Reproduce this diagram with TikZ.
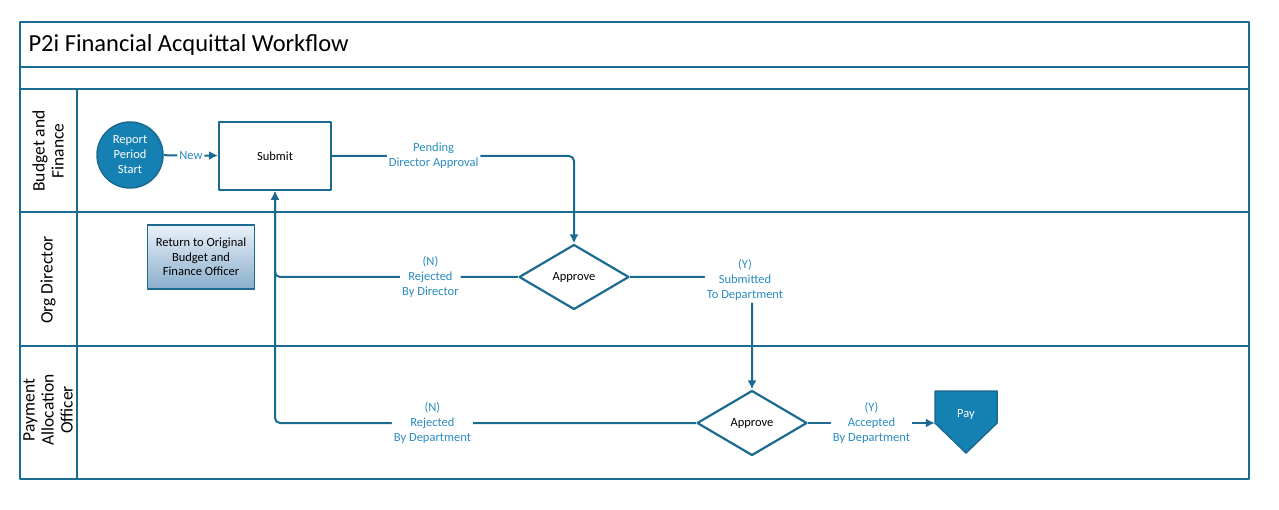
\documentclass[tikz,border=0pt]{standalone}
\usepackage{fontspec}
\setmainfont{Carlito}
\usetikzlibrary{arrows.meta,shapes.geometric}
\definecolor{lanec}{HTML}{1D6A90}
\definecolor{flowc}{HTML}{1B6A91}
\definecolor{lblc}{HTML}{2A8CC2}
\definecolor{fillc}{HTML}{1580B2}
\definecolor{notetop}{HTML}{EAF1F8}
\definecolor{notebot}{HTML}{8AAECD}

\begin{document}
\begin{tikzpicture}[x=1pt,y=-1pt,>={Latex[length=9pt,width=9pt]},line join=round,
  laneline/.style={draw=lanec,line width=2pt},
  lanename/.style={rotate=90,align=center,font=\fontsize{17.5}{19}\selectfont},
  flow/.style={draw=flowc,line width=2pt,rounded corners=5pt},
  lbl/.style={text=lblc,fill=white,align=center,inner sep=2pt,font=\fontsize{12.5}{15}\selectfont},
  startnode/.style={circle,fill=fillc,draw=lanec,line width=1.5pt,minimum size=66pt,inner sep=0pt,
    text=white,align=center,font=\fontsize{12.5}{15}\selectfont},
  task/.style={rectangle,draw=flowc,line width=2pt,fill=white,minimum width=112pt,minimum height=68pt,
    font=\fontsize{12.5}{15}\selectfont},
  decision/.style={diamond,draw=flowc,line width=2.2pt,fill=white,minimum width=110pt,minimum height=65pt,
    inner sep=0pt,font=\fontsize{12.5}{15}\selectfont},
  notebox/.style={rectangle,draw=lanec,line width=1.8pt,top color=notetop,bottom color=notebot,
    minimum width=107pt,minimum height=64pt,align=center,font=\fontsize{12.5}{14.5}\selectfont}]
  \useasboundingbox (0,0) rectangle (1279,510);

  % pool and lanes
  \draw[laneline] (20,22) rectangle (1249,479);
  \foreach \y in {67,89,212,346}
    \draw[laneline] (20,\y) -- (1249,\y);
  \draw[laneline] (77,89) -- (77,479);
  \node[anchor=west,font=\fontsize{24.5}{28}\selectfont] (title) at (25,45) {P2i Financial Acquittal Workflow};
  \node[lanename] (laneBF) at (48,151) {Budget and\\Finance};
  \node[lanename] (laneOD) at (48,280) {Org Director};
  \node[lanename] (lanePA) at (48,410) {Payment\\Allocation\\Officer};

  % steps
  \node[startnode] (start) at (130,155) {Report\\Period\\Start};
  \node[task] (submit) at (275,156) {Submit};
  \node[notebox] (ret) at (201,257) {Return to Original\\Budget and\\Finance Officer};
  \node[decision] (appr1) at (574,277) {Approve};
  \node[decision] (appr2) at (752,423) {Approve};
  \filldraw[fill=fillc,draw=lanec,line width=1.5pt] (935,391) -- (997,391) -- (997,423) -- (966,453) -- (935,423) -- cycle;
  \node[text=white,minimum width=62pt,inner sep=0pt,font=\fontsize{12.5}{15}\selectfont] (pay) at (966,414) {Pay};

  % flows
  \draw[flow,->] (start) -- (submit) node[lbl,midway] {New};
  \draw[flow,->] (submit.east) -| (appr1.north) node[lbl,pos=0.21] {Pending\\Director Approval};
  \draw[flow,->] (appr1.west) -| (submit.south) node[lbl,pos=0.18] {(N)\\Rejected\\By Director};
  \draw[flow,->] (appr1.east) -| (appr2.north) node[lbl,pos=0.5,xshift=-7pt,yshift=-3pt] {(Y)\\Submitted\\To Department};
  \draw[flow,->] (appr2.west) -| (submit.south) node[lbl,pos=0.313] {(N)\\Rejected\\By Department};
  \draw[flow,->] (appr2.east) -- (pay.west |- appr2.east) node[lbl,midway] {(Y)\\Accepted\\By Department};
\end{tikzpicture}
\end{document}
